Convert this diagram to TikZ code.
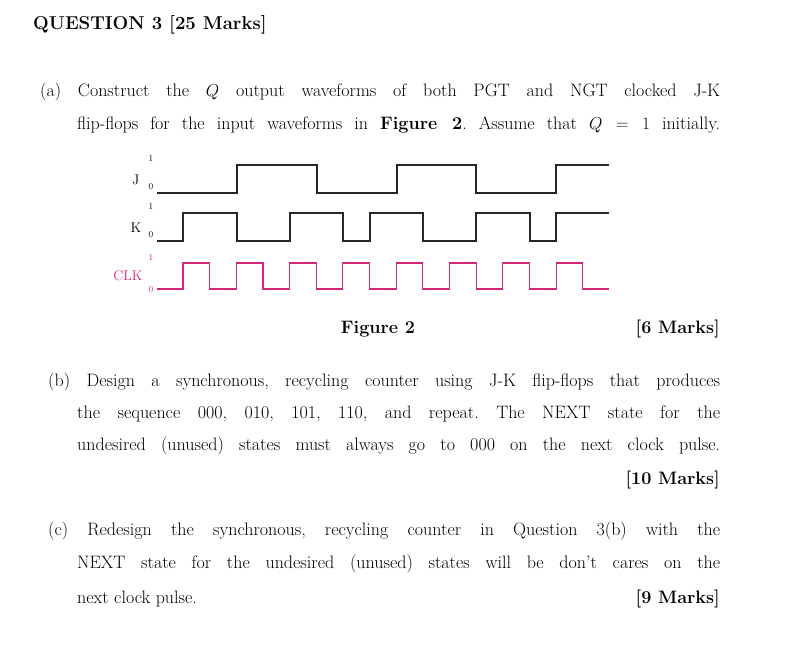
\documentclass[tikz,border=0pt]{standalone}
\usepackage{xcolor}
\definecolor{clkc}{RGB}{214,40,120}
\frenchspacing
\begin{document}
\begin{tikzpicture}[x=1pt,y=-1pt,
  txt/.style={anchor=base west,inner sep=0pt,font=\fontsize{18}{20}\selectfont},
  rtxt/.style={anchor=base east,inner sep=0pt,font=\fontsize{18}{20}\selectfont\bfseries},
  lvl/.style={inner sep=0pt,font=\fontsize{9}{10}\selectfont},
  sig/.style={inner sep=0pt,font=\fontsize{14}{15}\selectfont},
  wave/.style={line width=1.1pt,black!85},
  cwave/.style={line width=1.1pt,clkc}]
\useasboundingbox (0,0) rectangle (785,656);
\node[txt,font=\fontsize{18.6}{20}\selectfont\bfseries] (title) at (33,29) {QUESTION 3 [25 Marks]};
\node[txt] (a1) at (40,96) {\makebox[680pt][s]{(a) Construct the $Q$ output waveforms of both PGT and NGT clocked J-K}};
\node[txt] (a2) at (77,129) {\makebox[643pt][s]{flip-flops for the input waveforms in \textbf{Figure 2}. Assume that $Q\!=\!1$ initially.}};
% waveform
\node[sig] (J) at (136,180) {J};
\node[sig] (K) at (136,228) {K};
\node[sig,text=clkc] (C) at (128,276) {CLK};
\foreach \y/\n in {165/1,193/0,213/1,241/0}{\node[lvl] (l\n\y) at (151,\y-6) {\n};}
\node[lvl,text=clkc] (c1) at (151,257) {1};
\node[lvl,text=clkc] (c0) at (151,290) {0};
\coordinate (js) at (157,193);
\draw[wave] (js) -- (237,193) -- (237,165) -- (317,165) -- (317,193) -- (397,193) -- (397,165) -- (476,165) -- (476,193) -- (556,193) -- (556,165) -- (609,165);
\coordinate (ks) at (157,241);
\draw[wave] (ks) -- (183,241) -- (183,213) -- (237,213) -- (237,241) -- (290,241) -- (290,213) -- (343,213) -- (343,241) -- (370,241) -- (370,213) -- (423,213) -- (423,241) -- (476,241) -- (476,213) -- (530,213) -- (530,241) -- (556,241) -- (556,213) -- (609,213);
\coordinate (cs) at (157,289);
\draw[cwave] (cs) \foreach \i in {0,...,7}{ -- ({183+53.3*\i},289) -- ({183+53.3*\i},263) -- ({209.7+53.3*\i},263) -- ({209.7+53.3*\i},289)} -- (609,289);
\node[txt,font=\fontsize{18}{20}\selectfont\bfseries,anchor=base] (fig) at (378,333) {Figure 2};
\node[rtxt] (m6) at (720,333) {[6 Marks]};
\node[txt] (b1) at (48,386) {\makebox[672pt][s]{(b) Design a synchronous, recycling counter using J-K flip-flops that produces}};
\node[txt] (b2) at (77,418) {\makebox[643pt][s]{the sequence 000, 010, 101, 110, and repeat. The NEXT state for the}};
\node[txt] (b3) at (77,450) {\makebox[643pt][s]{undesired (unused) states must always go to 000 on the next clock pulse.}};
\node[rtxt] (m10) at (720,484) {[10 Marks]};
\node[txt] (c1l) at (48,535) {\makebox[672pt][s]{(c) Redesign the synchronous, recycling counter in Question 3(b) with the}};
\node[txt] (c2l) at (77,568) {\makebox[643pt][s]{NEXT state for the undesired (unused) states will be don't cares on the}};
\node[txt] (c3l) at (77,603) {next clock pulse.};
\node[rtxt] (m9) at (720,603) {[9 Marks]};
\end{tikzpicture}
\end{document}
